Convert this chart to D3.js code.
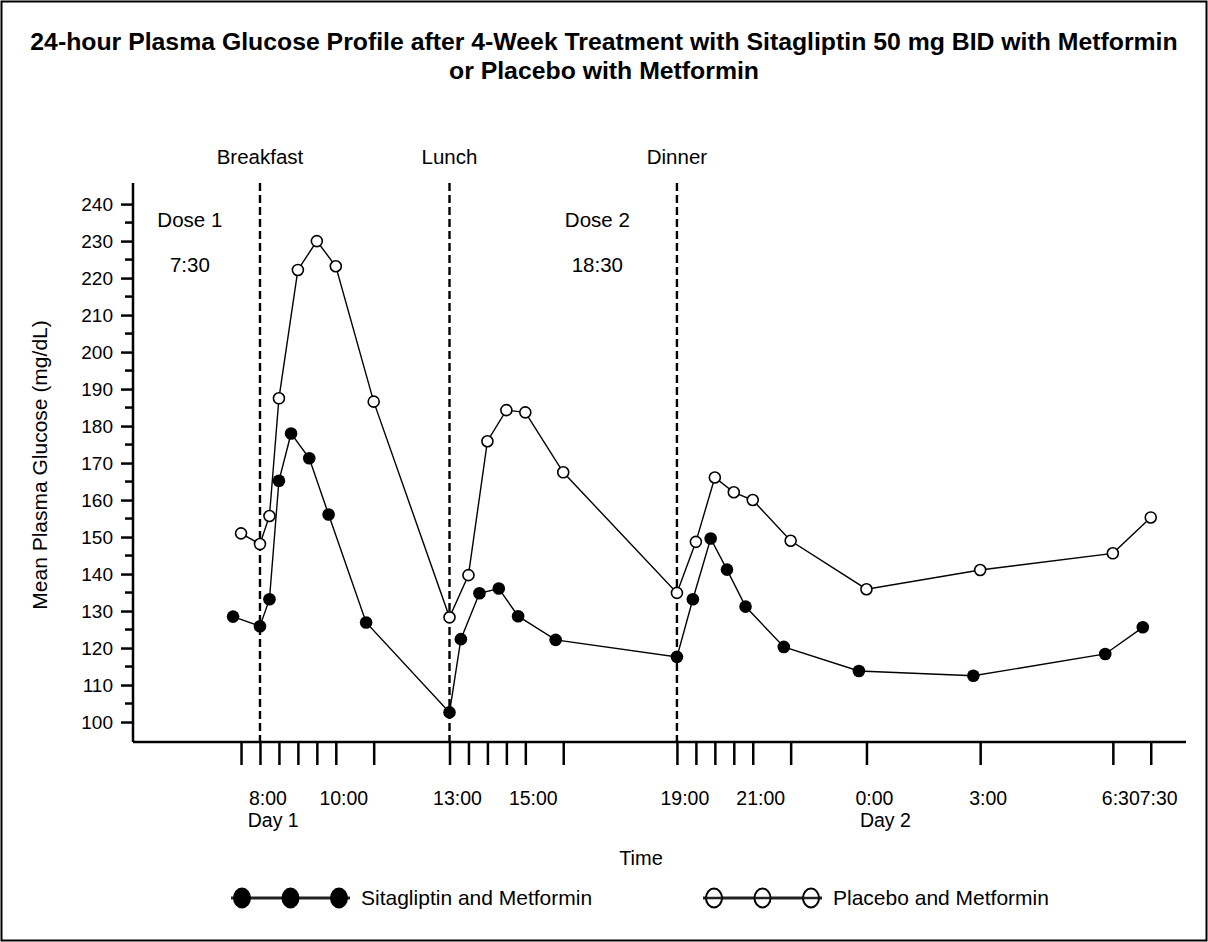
<!DOCTYPE html>
<html>
<head>
<meta charset="utf-8">
<script src="https://cdn.jsdelivr.net/npm/d3@7"></script>
<style>
  body { margin: 0; background: #fff; }
  text { font-family: "Liberation Sans", Arial, sans-serif; fill: #000; }
  .line { fill: none; stroke: #000; stroke-width: 1.4; }
</style>
</head>
<body>
<div id="chart"></div>
<script>
// time is hours from midnight of day 1 (24 = 0:00 day 2)
var sitaTimes  = [7.29, 8.0, 8.25, 8.5, 8.82, 9.3, 9.81, 10.8, 13.0, 13.3, 13.79, 14.3, 14.81, 15.8,
                  19.0, 19.42, 19.89, 20.32, 20.81, 21.82, 23.8, 26.82, 30.3, 31.29];
var sitaValues = [128.5, 125.9, 133.2, 165.2, 178.0, 171.3, 156.1, 126.9, 102.6, 122.4, 134.8, 136.1, 128.6, 122.2,
                  117.6, 133.2, 149.6, 141.2, 131.2, 120.3, 113.8, 112.5, 118.4, 125.6];

var placTimes  = [7.5, 8.0, 8.25, 8.5, 9.0, 9.5, 10.0, 11.0, 13.0, 13.5, 14.0, 14.5, 15.0, 16.0,
                  19.0, 19.5, 20.0, 20.5, 21.0, 22.0, 24.0, 27.0, 30.5, 31.5];
var placValues = [151.0, 148.1, 155.7, 187.5, 222.2, 230.0, 223.2, 186.6, 128.3, 139.7, 175.9, 184.3, 183.7, 167.5,
                  134.9, 148.7, 166.1, 162.1, 160.0, 149.0, 135.9, 141.1, 145.6, 155.3];

var xTickTimes  = [7.5, 8, 8.5, 9, 9.5, 10, 11, 13, 13.5, 14, 14.5, 15, 16, 19, 19.5, 20, 20.5, 21, 22, 24, 27, 30.5, 31.5];
var xLabelTimes = [8, 10, 13, 15, 19, 21, 24, 27, 30.5, 31.5];
var xLabels     = ["8:00", "10:00", "13:00", "15:00", "19:00", "21:00", "0:00", "3:00", "6:30", "7:30"];
var dayTimes    = [8.35, 24.5];
var dayLabels   = ["Day 1", "Day 2"];

var mealTimes  = [8, 13, 19];
var mealLabels = ["Breakfast", "Lunch", "Dinner"];
var doseTimes  = [6.15, 16.9];
var doseLabels = ["Dose 1", "Dose 2"];
var doseClock  = ["7:30", "18:30"];

var yMajor = d3.range(100, 241, 10);
var yMinor = d3.range(105, 241, 10);

var seriesNames = ["Sitagliptin and Metformin", "Placebo and Metformin"];

var width = 1208;
var height = 942;

var svg = d3.select('#chart')
  .append('svg')
  .attr('width', width)
  .attr('height', height);

// outer frame
svg.append('rect')
  .attr('x', 1.5).attr('y', 1.5)
  .attr('width', width - 3).attr('height', height - 3)
  .attr('fill', '#fff')
  .attr('stroke', '#000')
  .attr('stroke-width', 2);

var margin = { top: 183, left: 133, right: 22, bottom: 200 };
var plotW = width - margin.left - margin.right;
var plotH = height - margin.top - margin.bottom;

var x = d3.scaleLinear().domain([4.65, 32.43]).range([0, plotW]);
var y = d3.scaleLinear().domain([94.6, 245.7]).range([plotH, 0]);

var g = svg.append('g')
  .attr('transform', 'translate(' + margin.left + ',' + margin.top + ')');

// title
var title = svg.append('text')
  .attr('x', width / 2)
  .attr('y', 50)
  .style('text-anchor', 'middle')
  .style('font-weight', 'bold')
  .style('font-size', '24.8px');
title.append('tspan').attr('x', width / 2).text('24-hour Plasma Glucose Profile after 4-Week Treatment with Sitagliptin 50 mg BID with Metformin');
title.append('tspan').attr('x', width / 2).attr('dy', 29).text('or Placebo with Metformin');

// y axis
var yAxis = d3.axisLeft(y).tickValues(yMajor).tickSize(12).tickPadding(8);
var yg = g.append('g').attr('class', 'axis-y').call(yAxis);
yg.select('.domain').remove();
yg.selectAll('.tick line').attr('stroke-width', 2.5);
yg.selectAll('.tick text').style('font-size', '19px');

g.append('g').selectAll('line')
  .data(yMinor)
  .enter()
  .append('line')
  .attr('x1', -8).attr('x2', 0)
  .attr('y1', function(d) { return y(d); })
  .attr('y2', function(d) { return y(d); })
  .attr('stroke', '#000')
  .attr('stroke-width', 2.5);

g.append('line')
  .attr('x1', 0).attr('x2', 0)
  .attr('y1', 0).attr('y2', plotH)
  .attr('stroke', '#000').attr('stroke-width', 2.5);

g.append('text')
  .attr('transform', 'rotate(-90)')
  .attr('x', -(465 - margin.top))
  .attr('y', -86)
  .style('text-anchor', 'middle')
  .style('font-size', '21px')
  .text('Mean Plasma Glucose (mg/dL)');

// x axis
var xAxis = d3.axisBottom(x).tickValues(xTickTimes).tickSize(23).tickFormat('');
var xg = g.append('g')
  .attr('transform', 'translate(0,' + plotH + ')')
  .call(xAxis);
xg.select('.domain').remove();
xg.selectAll('.tick line').attr('stroke-width', 2.5);

g.append('line')
  .attr('x1', 0).attr('x2', plotW)
  .attr('y1', plotH).attr('y2', plotH)
  .attr('stroke', '#000').attr('stroke-width', 2.5);

g.selectAll('.xlab')
  .data(xLabelTimes)
  .enter()
  .append('text')
  .attr('class', 'xlab')
  .attr('x', function(d) { return x(d) + 8; })
  .attr('y', 805 - margin.top)
  .style('text-anchor', 'middle')
  .style('font-size', '19.5px')
  .text(function(d, i) { return xLabels[i]; });

g.selectAll('.daylab')
  .data(dayTimes)
  .enter()
  .append('text')
  .attr('class', 'daylab')
  .attr('x', function(d) { return x(d); })
  .attr('y', 827 - margin.top)
  .style('text-anchor', 'middle')
  .style('font-size', '19.5px')
  .text(function(d, i) { return dayLabels[i]; });

g.append('text')
  .attr('x', 641 - margin.left)
  .attr('y', 865 - margin.top)
  .style('text-anchor', 'middle')
  .style('font-size', '20px')
  .text('Time');

// meal lines
g.selectAll('.meal')
  .data(mealTimes)
  .enter()
  .append('line')
  .attr('class', 'meal')
  .attr('x1', function(d) { return x(d); })
  .attr('x2', function(d) { return x(d); })
  .attr('y1', 0)
  .attr('y2', plotH)
  .attr('stroke', '#000')
  .attr('stroke-width', 2.4)
  .attr('stroke-dasharray', '8,4');

g.selectAll('.meallab')
  .data(mealTimes)
  .enter()
  .append('text')
  .attr('class', 'meallab')
  .attr('x', function(d) { return x(d); })
  .attr('y', 164 - margin.top)
  .style('text-anchor', 'middle')
  .style('font-size', '20.5px')
  .text(function(d, i) { return mealLabels[i]; });

// dose notes
g.selectAll('.doselab')
  .data(doseTimes)
  .enter()
  .append('text')
  .attr('class', 'doselab')
  .attr('x', function(d) { return x(d); })
  .attr('y', 227 - margin.top)
  .style('text-anchor', 'middle')
  .style('font-size', '20.5px')
  .text(function(d, i) { return doseLabels[i]; });

g.selectAll('.doseclock')
  .data(doseTimes)
  .enter()
  .append('text')
  .attr('class', 'doseclock')
  .attr('x', function(d) { return x(d); })
  .attr('y', 272 - margin.top)
  .style('text-anchor', 'middle')
  .style('font-size', '20.5px')
  .text(function(d, i) { return doseClock[i]; });

// series
var sita = sitaTimes.map(function(t, i) { return { t: t, v: sitaValues[i] }; });
var plac = placTimes.map(function(t, i) { return { t: t, v: placValues[i] }; });

var line = d3.line()
  .x(function(d) { return x(d.t); })
  .y(function(d) { return y(d.v); });

g.append('path').attr('class', 'line').attr('d', line(plac));
g.append('path').attr('class', 'line').attr('d', line(sita));

g.selectAll('.pOpen')
  .data(plac)
  .enter()
  .append('circle')
  .attr('class', 'pOpen')
  .attr('cx', function(d) { return x(d.t); })
  .attr('cy', function(d) { return y(d.v); })
  .attr('r', 5.5)
  .attr('fill', '#fff')
  .attr('stroke', '#000')
  .attr('stroke-width', 1.6);

g.selectAll('.pFill')
  .data(sita)
  .enter()
  .append('circle')
  .attr('class', 'pFill')
  .attr('cx', function(d) { return x(d.t); })
  .attr('cy', function(d) { return y(d.v); })
  .attr('r', 6.3)
  .attr('fill', '#000');

// legend
var legend = svg.append('g').attr('class', 'legend');
var legendX = [231, 703];
var legendY = 898;

seriesNames.forEach(function(name, i) {
  var lg = legend.append('g').attr('transform', 'translate(' + legendX[i] + ',' + legendY + ')');
  lg.append('line')
    .attr('x1', 0).attr('x2', 119)
    .attr('y1', 0).attr('y2', 0)
    .attr('stroke', '#222')
    .attr('stroke-width', 3);
  [11, 59.5, 108].forEach(function(cx) {
    lg.append('ellipse')
      .attr('cx', cx).attr('cy', 0)
      .attr('rx', 8).attr('ry', 9.5)
      .attr('fill', i === 0 ? '#000' : '#fff')
      .attr('stroke', '#000')
      .attr('stroke-width', 2);
    if (i === 1) {
      lg.append('line')
        .attr('x1', cx - 8).attr('x2', cx + 8)
        .attr('y1', 0).attr('y2', 0)
        .attr('stroke', '#222').attr('stroke-width', 2.5);
    }
  });
  lg.append('text')
    .attr('x', 130)
    .attr('y', 7)
    .style('font-size', '21px')
    .text(name);
});
</script>
</body>
</html>
